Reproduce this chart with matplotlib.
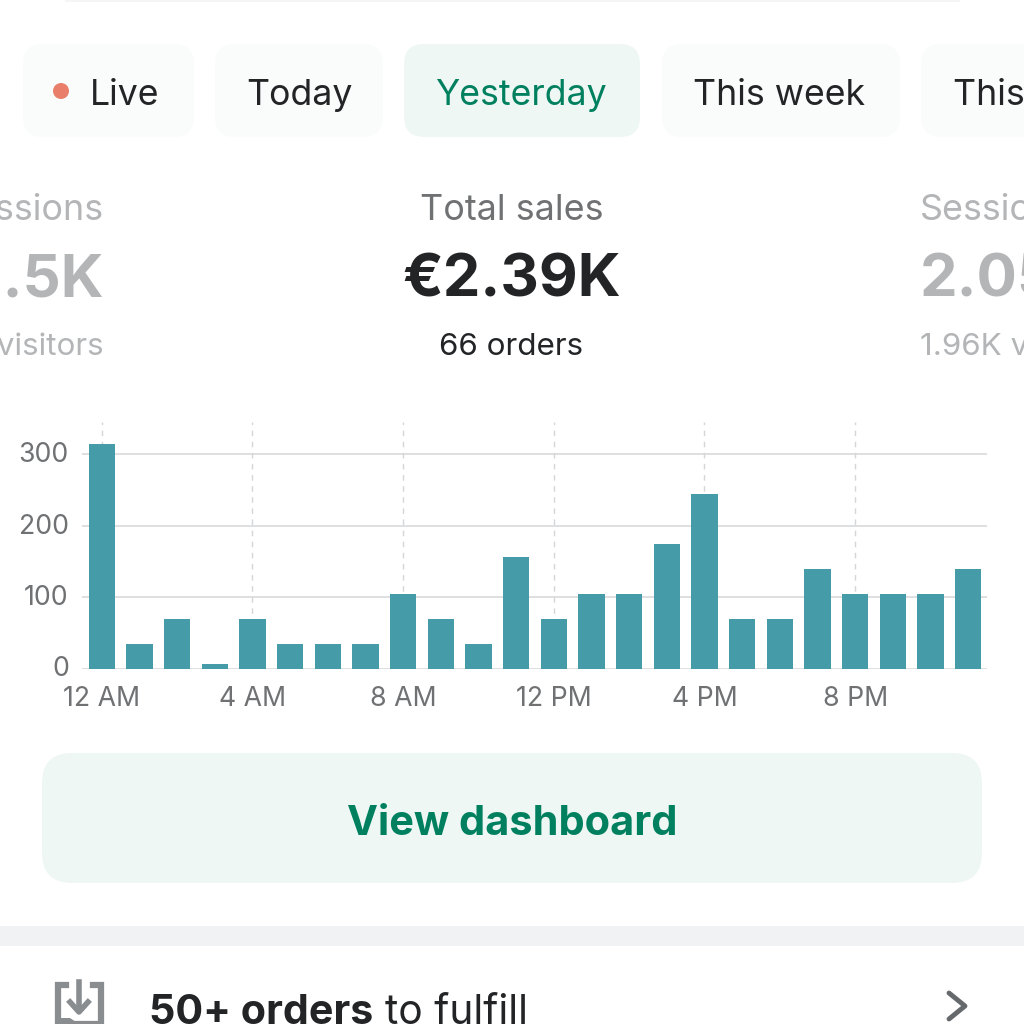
import matplotlib
matplotlib.use("Agg")
import matplotlib.pyplot as plt
from matplotlib.patches import Circle, FancyBboxPatch, Polygon, Rectangle
from matplotlib.transforms import ScaledTranslation

plt.rcParams["font.family"] = ["Inter", "Roboto", "DejaVu Sans"]

# hourly sales
hours = list(range(24))
sales = [314, 34, 69, 7, 69, 34, 34, 34, 104, 69, 34, 156,
         69, 104, 104, 174, 244, 69, 69, 139, 104, 104, 104, 139]
x_ticks = [0, 4, 8, 12, 16, 20]
x_labels = ["12 AM", "4 AM", "8 AM", "12 PM", "4 PM", "8 PM"]
y_ticks = [0, 100, 200, 300]

# range selector
pill_labels = ["Live", "Today", "Yesterday", "This week", "This month"]
pill_left = [23, 215, 404, 662, 921]
pill_right = [194, 383, 640, 900, 1160]
pill_text_x = [90, 246, 435, 693, 953]

DARK = "#222426"
GREY = "#6f7173"
FADED = "#b3b5b7"
GREEN = "#00805f"
PALE = "#fafbfb"
MINT = "#eff7f4"
TEAL = "#459ca8"
LINE = "#d4d6d7"

fig = plt.figure(figsize=(10.24, 10.24), dpi=100)
ui = fig.add_axes([0, 0, 1, 1])
ui.set_xlim(0, 1024)
ui.set_ylim(1024, 0)
ui.axis("off")


def rounded(x0, y0, x1, y1, radius, color):
    ui.add_patch(FancyBboxPatch(
        (x0 + radius, y0 + radius), x1 - x0 - 2 * radius, y1 - y0 - 2 * radius,
        boxstyle=f"round,pad={radius},rounding_size={radius}",
        facecolor=color, edgecolor="none",
    ))


ui.add_patch(Rectangle((65, 0), 895, 2, facecolor="#f5f5f5", edgecolor="none"))

for label, left, right, text_x in zip(pill_labels, pill_left, pill_right, pill_text_x):
    active = label == "Yesterday"
    rounded(left, 44, right, 137, 20, MINT if active else PALE)
    ui.text(text_x, 92, label, fontsize=25.7, va="center_baseline", ha="left",
            color=GREEN if active else DARK)
ui.add_patch(Circle((61, 91), 8, facecolor="#e97f6b", edgecolor="none"))

# summary columns
ui.text(512, 207, "Total sales", fontsize=25.8, ha="center", va="center_baseline", color=GREY)
ui.text(512, 275, "€2.39K", fontsize=43, ha="center", va="center_baseline", color=DARK, fontweight="bold")
ui.text(511, 344, "66 orders", fontsize=22.6, ha="center", va="center_baseline", color=DARK)

ui.text(104, 207, "Sessions", fontsize=25.8, ha="right", va="center_baseline", color=FADED)
ui.text(104, 275, "1.5K", fontsize=43, ha="right", va="center_baseline", color=FADED, fontweight="bold")
ui.text(104, 344, "1.41K visitors", fontsize=22.6, ha="right", va="center_baseline", color=FADED)

ui.text(920, 207, "Sessions", fontsize=25.8, ha="left", va="center_baseline", color=FADED)
ui.text(920, 275, "2.05K", fontsize=43, ha="left", va="center_baseline", color=FADED, fontweight="bold")
ui.text(920, 344, "1.96K visitors", fontsize=22.6, ha="left", va="center_baseline", color=FADED)

# bar chart, placed in pixel terms of the screenshot
ax = fig.add_axes([82 / 1024, 1 - 668.5 / 1024, (987 - 82) / 1024, (668.5 - 421.7) / 1024])
ax.patch.set_alpha(0)
ax.bar(hours, sales, width=0.7, color=TEAL, zorder=3)
ax.set_xlim(-0.523, 23.5)
ax.set_ylim(0, 345.6)
ax.set_xticks(x_ticks)
ax.set_xticklabels(x_labels)
ax.set_yticks(y_ticks)
ax.grid(True, axis="y", color=LINE, linewidth=1.1, zorder=1)
ax.grid(True, axis="x", color=LINE, linewidth=1, linestyle=(0, (4, 4)), zorder=1)
ax.tick_params(axis="x", length=0, pad=12.5, labelsize=19.2, labelcolor=GREY)
ax.tick_params(axis="y", length=0, pad=9.5, labelsize=19.2, labelcolor=GREY)
nudge_up = ScaledTranslation(0, 1.5 / 72, fig.dpi_scale_trans)
for tick_label in ax.get_yticklabels():
    tick_label.set_transform(tick_label.get_transform() + nudge_up)
for spine in ax.spines.values():
    spine.set_visible(False)

# dashboard button and the list row underneath
rounded(42, 753, 982, 883, 30, MINT)
ui.text(512, 820, "View dashboard", fontsize=29.9, ha="center", va="center_baseline", color=GREEN, fontweight="bold")
ui.add_patch(Rectangle((0, 926), 1024, 20, facecolor="#f1f2f3", edgecolor="none"))

ui.text(149, 1009, "50+ orders", fontsize=29.7, ha="left", va="center_baseline", color=DARK, fontweight="bold")
ui.text(385, 1009, "to fulfill", fontsize=29.3, ha="left", va="center_baseline", color=DARK)

# tray icon
ui.plot([66, 58, 58, 101, 101, 93], [985, 985, 1024, 1024, 985, 985], color="#8a8d90", linewidth=4.5, solid_joinstyle="miter")
ui.plot([79, 79], [982, 1010], color="#8a8d90", linewidth=4)
ui.plot([70, 79, 88], [1002, 1012, 1002], color="#8a8d90", linewidth=4)
ui.add_patch(Polygon([(58, 1018), (70, 1018), (79, 1024), (58, 1024)], facecolor="#8a8d90", edgecolor="none"))
ui.plot([949, 965, 949], [993, 1006, 1019], color="#66696c", linewidth=3.5, solid_capstyle="round")

fig.savefig("out.png", dpi=100)
